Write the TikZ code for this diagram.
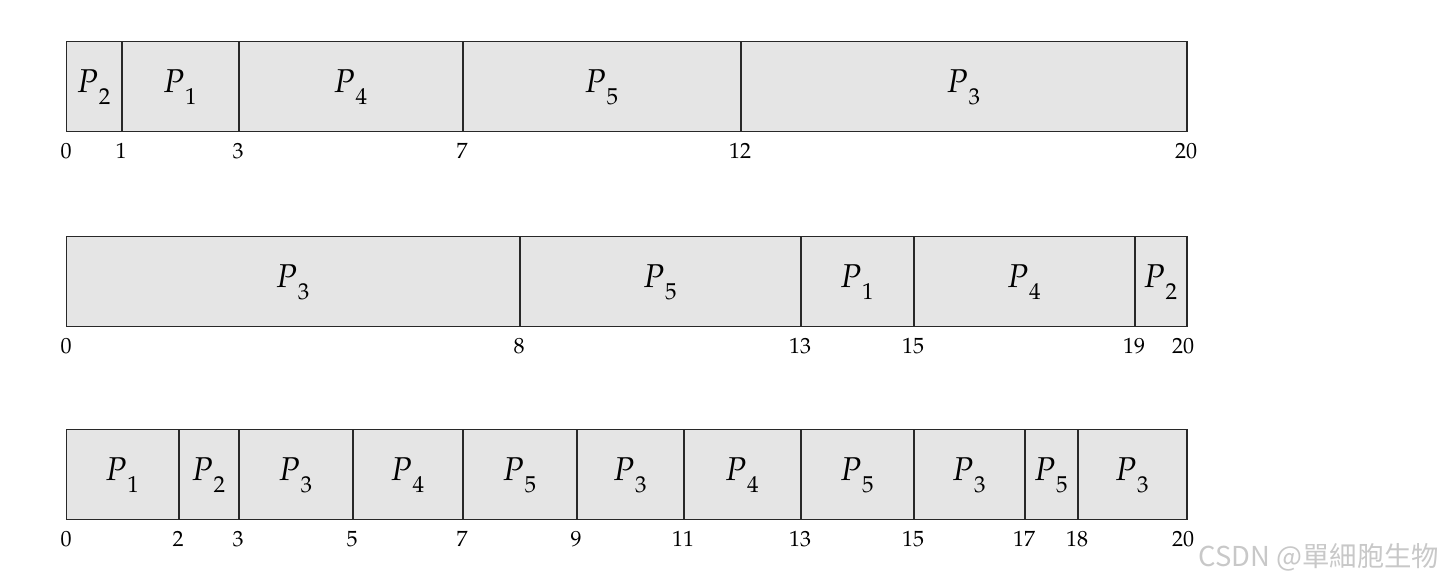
\documentclass[tikz,border=0pt]{standalone}
\usepackage{fontspec}
\newfontfamily\cjkfont{Noto Sans CJK TC}
\definecolor{boxgray}{RGB}{229,229,229}
\definecolor{edgegray}{RGB}{40,40,40}
\definecolor{wmgray}{RGB}{200,200,200}
\newcommand\pp[1]{\usefont{OT1}{ppl}{m}{it}\fontsize{16.5}{16.5}\selectfont P\kern0.6pt\raisebox{-5.9pt}{\usefont{OT1}{ppl}{m}{n}\fontsize{11.5}{11.5}\selectfont #1}}
\newcommand\tickfont{\usefont{OT1}{ppl}{m}{n}\fontsize{11}{11}\selectfont}
\newcommand\gseg[5]{\node[segbox, minimum width={(#3-#2)*0.5pt}] (#1) at (#2,#4) {\pp{#5}};}
\tikzset{
  segbox/.style={draw=edgegray, line width=0.75pt, fill=boxgray, anchor=north west,
    inner sep=0pt, minimum height=45pt, text height=12pt, text depth=5.3pt},
  ticklabel/.style={anchor=base, inner sep=0pt, font=\tickfont},
}
\begin{document}
\begin{tikzpicture}[x=0.5pt,y=-0.5pt]
\useasboundingbox (0,0) rectangle (1440,584);
% Row 1
\gseg{a1}{65.5}{121}{40.5}{2}
\gseg{a2}{121}{238}{40.5}{1}
\gseg{a3}{238}{462}{40.5}{4}
\gseg{a4}{462}{740}{40.5}{5}
\gseg{a5}{740}{1186}{40.5}{3}
\foreach \x/\t [count=\i] in {66/0,121/1,238/3,462/7,740/12,1186/20}
  \node[ticklabel] (ta\i) at (\x,158.5) {\t};
% Row 2
\gseg{b1}{65.5}{519}{235.5}{3}
\gseg{b2}{519}{800}{235.5}{5}
\gseg{b3}{800}{913}{235.5}{1}
\gseg{b4}{913}{1134}{235.5}{4}
\gseg{b5}{1134}{1186}{235.5}{2}
\foreach \x/\t [count=\i] in {66/0,519/8,800/13,913/15,1134/19,1183/20}
  \node[ticklabel] (tb\i) at (\x,353.5) {\t};
% Row 3
\gseg{c1}{65.5}{178}{428.5}{1}
\gseg{c2}{178}{238}{428.5}{2}
\gseg{c3}{238}{352}{428.5}{3}
\gseg{c4}{352}{462}{428.5}{4}
\gseg{c5}{462}{576}{428.5}{5}
\gseg{c6}{576}{683}{428.5}{3}
\gseg{c7}{683}{800}{428.5}{4}
\gseg{c8}{800}{913}{428.5}{5}
\gseg{c9}{913}{1024}{428.5}{3}
\gseg{c10}{1024}{1077}{428.5}{5}
\gseg{c11}{1077}{1186}{428.5}{3}
\foreach \x/\t [count=\i] in {66/0,178/2,238/3,352/5,462/7,576/9,683/11,800/13,913/15,1024/17,1077/18,1183/20}
  \node[ticklabel] (tc\i) at (\x,546.5) {\t};
% watermark
\node[anchor=base west, inner sep=0pt, text=wmgray, font=\cjkfont\fontsize{13.7}{13.7}\selectfont] (wm) at (1198,566) {CSDN @單細胞生物};
\end{tikzpicture}
\end{document}
